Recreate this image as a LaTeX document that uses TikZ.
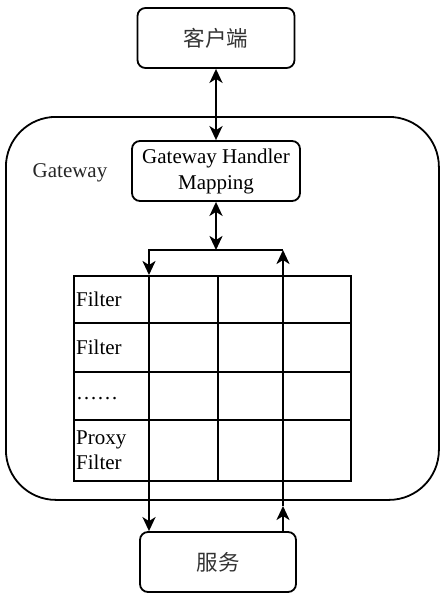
\documentclass[tikz,border=0pt]{standalone}
\usepackage{fontspec}
\setmainfont{Liberation Serif}
\newfontfamily\cjk{Noto Sans CJK SC}
\usetikzlibrary{arrows.meta,positioning}
\tikzset{
  tip/.tip={Stealth[length=14pt,width=13pt,inset=4pt]},
  box/.style={draw, line width=1.8pt, rounded corners=8pt, align=center},
  arr/.style={line width=2.4pt, -tip},
  darr/.style={line width=2.4pt, tip-tip},
  ln/.style={line width=2.4pt},
  grid/.style={line width=1.8pt},
  cell/.style={anchor=west, inner sep=0pt, align=left, font=\fontsize{21}{25}\selectfont},
  cjktext/.style={text=black!80, font=\cjk\fontsize{21.5}{25}\selectfont},
}
\begin{document}
\begin{tikzpicture}[x=1pt,y=-1pt]
\useasboundingbox (0,0) rectangle (444,597);
% outer gateway
\node[draw, line width=1.8pt, rounded corners=50pt, minimum width=433pt, minimum height=383pt, anchor=north west] (gw) at (5,116) {};
\node[font=\fontsize{21}{24}\selectfont, text=black!85] (gwlabel) at (70,173) {Gateway};
% boxes
\node[box, cjktext, minimum width=157pt, minimum height=60pt] (client) at (216,38) {客户端};
\node[box, font=\fontsize{21}{26}\selectfont, minimum width=168pt, minimum height=60pt, inner sep=0pt] (ghm) at (216,171) {Gateway Handler\\Mapping};
\node[box, cjktext, minimum width=156pt, minimum height=60pt] (svc) at (218,562) {服务};
% table
\node[draw, grid, minimum width=277pt, minimum height=205pt, anchor=north west, inner sep=0pt] (tbl) at (73,275) {};
\draw[grid] (73,323) -- (350,323) (73,372) -- (350,372) (73,420) -- (350,420)
            (218,275) -- (218,480) (283,275) -- (283,480);
\node[cell] (f1) at (76,299) {Filter};
\node[cell] (f2) at (76,347.5) {Filter};
\node[cell] (f3) at (76,399) {……};
\node[cell] (f4) at (76,450) {Proxy\\Filter};
% coordinates
\coordinate (j) at (216,250);
\coordinate (lt) at (149,250);
\coordinate (ltop) at (149,275);
\coordinate (lbot) at (149,480);
\coordinate (rt) at (283,250);
\coordinate (rmid) at (283,506);
% connectors
\draw[darr] (client.south) -- (ghm.north);
\draw[darr] (ghm.south) -- (j);
\draw[arr] (j) -- (lt) -- (ltop);
\draw[ln] (ltop) -- (lbot);
\draw[arr] (lbot) -- (svc.north -| lbot);
\draw[arr] (svc.north -| rt) -- (rmid);
\draw[arr] (rmid) -- (rt);
\draw[ln] (rt) -- (j);
\end{tikzpicture}
\end{document}
